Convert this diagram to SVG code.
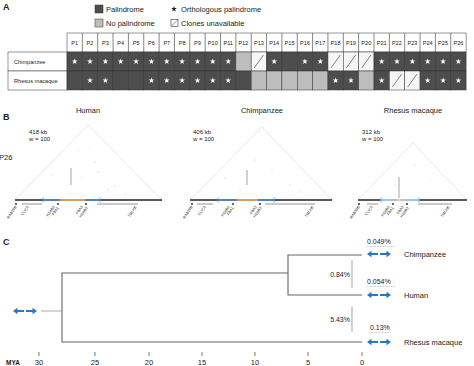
<svg xmlns="http://www.w3.org/2000/svg" xmlns:xlink="http://www.w3.org/1999/xlink" width="474" height="366" viewBox="0 0 474 366">
<style>
text{font-family:"Liberation Sans",Arial,sans-serif;fill:#222}
.pl{font-size:9px;font-weight:bold}
.lg{font-size:7.5px}
.hd{font-size:5.6px;text-anchor:middle}
.rl{font-size:5.6px}
.d{fill:#4d4d4d;stroke:#333;stroke-width:0.5}
.l{fill:#bdbdbd;stroke:#333;stroke-width:0.5}
.n{fill:#f6f6f6;stroke:#333;stroke-width:0.5}
.w{fill:#fff;stroke:#333;stroke-width:0.5}
.hl{stroke:#333;stroke-width:0.6}
.tri{fill:none;stroke:#d4d4d4;stroke-width:0.6}
.base{stroke:#222;stroke-width:1.5}
.bl{stroke:#4a90d0;stroke-width:1.6}
.blp{stroke:#9cc8ea;stroke-width:1.8}
.or{stroke:#f2b25c;stroke-width:1.6}
.gl{stroke:#888;stroke-width:0.9}
.vl{stroke:#999;stroke-width:0.9}
.gn{font-size:3.8px;text-anchor:end}
.tt{font-size:7.5px;text-anchor:middle}
.kb{font-size:6px}
.br{fill:none;stroke:#666;stroke-width:1.1}
.sp{font-size:7.5px}
.pc{font-size:7px}
.ax{font-size:7.5px;text-anchor:middle}
.tk{stroke:#555;stroke-width:0.8}
.du{stroke:#aaa;stroke-width:0.6;stroke-dasharray:1,0.6}
.dot{fill:#bbb}
use.ws{fill:#fff}
use.bs{fill:#222}
</style>
<defs>
<path id="star" d="M0,-3 L0.71,-0.97 L2.85,-0.93 L1.14,0.37 L1.76,2.43 L0,1.2 L-1.76,2.43 L-1.14,0.37 L-2.85,-0.93 L-0.71,-0.97 Z"/>
<g id="dbl" fill="#2a78c2">
<polygon points="-12,0 -7.5,-3.2 -7.5,3.2"/>
<rect x="-8" y="-1" width="7" height="2"/>
<rect x="1" y="-1" width="7" height="2"/>
<polygon points="12,0 7.5,-3.2 7.5,3.2"/>
</g>
</defs>

<!-- Panel A -->
<text class="pl" x="3" y="10">A</text>
<g id="legend">
<rect x="95" y="5" width="8" height="8" class="d"/>
<text class="lg" x="106" y="12">Palindrome</text>
<rect x="95" y="19" width="8" height="8" class="l"/>
<text class="lg" x="106" y="26">No palindrome</text>
<use href="#star" x="174" y="9" class="bs"/>
<text class="lg" x="181" y="12">Orthologous palindrome</text>
<rect x="171" y="19.5" width="7" height="7" fill="#fff" stroke="#333" stroke-width="0.6"/>
<line x1="172" y1="25.5" x2="177" y2="20.5" class="hl"/>
<text class="lg" x="181" y="26">Clones unavailable</text>
</g>

<g id="table">
<rect x="8" y="52" width="59" height="19" class="w"/>
<rect x="8" y="71" width="59" height="19" class="w"/>
<text class="rl" x="14" y="63.5">Chimpanzee</text>
<text class="rl" x="14" y="82.5">Rhesus macaque</text>
<g>
<rect x="67" y="33" width="399.1" height="19" class="w"/>
<text class="hd" x="74.7" y="44.5">P1</text><text class="hd" x="90" y="44.5">P2</text><text class="hd" x="105.4" y="44.5">P3</text><text class="hd" x="120.7" y="44.5">P4</text><text class="hd" x="136.1" y="44.5">P5</text><text class="hd" x="151.4" y="44.5">P6</text><text class="hd" x="166.8" y="44.5">P7</text><text class="hd" x="182.1" y="44.5">P8</text><text class="hd" x="197.5" y="44.5">P9</text><text class="hd" x="212.8" y="44.5">P10</text><text class="hd" x="228.2" y="44.5">P11</text><text class="hd" x="243.5" y="44.5">P12</text><text class="hd" x="258.9" y="44.5">P13</text><text class="hd" x="274.2" y="44.5">P14</text><text class="hd" x="289.6" y="44.5">P15</text><text class="hd" x="304.9" y="44.5">P16</text><text class="hd" x="320.3" y="44.5">P17</text><text class="hd" x="335.6" y="44.5">P18</text><text class="hd" x="351" y="44.5">P19</text><text class="hd" x="366.3" y="44.5">P20</text><text class="hd" x="381.7" y="44.5">P21</text><text class="hd" x="397" y="44.5">P22</text><text class="hd" x="412.4" y="44.5">P23</text><text class="hd" x="427.7" y="44.5">P24</text><text class="hd" x="443.1" y="44.5">P25</text><text class="hd" x="458.4" y="44.5">P26</text>
<g class="hl">
<line x1="82.35" y1="33" x2="82.35" y2="52"/><line x1="97.7" y1="33" x2="97.7" y2="52"/><line x1="113.05" y1="33" x2="113.05" y2="52"/><line x1="128.4" y1="33" x2="128.4" y2="52"/><line x1="143.75" y1="33" x2="143.75" y2="52"/><line x1="159.1" y1="33" x2="159.1" y2="52"/><line x1="174.45" y1="33" x2="174.45" y2="52"/><line x1="189.8" y1="33" x2="189.8" y2="52"/><line x1="205.15" y1="33" x2="205.15" y2="52"/><line x1="220.5" y1="33" x2="220.5" y2="52"/><line x1="235.85" y1="33" x2="235.85" y2="52"/><line x1="251.2" y1="33" x2="251.2" y2="52"/><line x1="266.55" y1="33" x2="266.55" y2="52"/><line x1="281.9" y1="33" x2="281.9" y2="52"/><line x1="297.25" y1="33" x2="297.25" y2="52"/><line x1="312.6" y1="33" x2="312.6" y2="52"/><line x1="327.95" y1="33" x2="327.95" y2="52"/><line x1="343.3" y1="33" x2="343.3" y2="52"/><line x1="358.65" y1="33" x2="358.65" y2="52"/><line x1="374" y1="33" x2="374" y2="52"/><line x1="389.35" y1="33" x2="389.35" y2="52"/><line x1="404.7" y1="33" x2="404.7" y2="52"/><line x1="420.05" y1="33" x2="420.05" y2="52"/><line x1="435.4" y1="33" x2="435.4" y2="52"/><line x1="450.75" y1="33" x2="450.75" y2="52"/>
</g>
</g>
<g>
<rect x="67" y="52" width="15.35" height="19" class="d"/><rect x="82.35" y="52" width="15.35" height="19" class="d"/><rect x="97.7" y="52" width="15.35" height="19" class="d"/><rect x="113.05" y="52" width="15.35" height="19" class="d"/><rect x="128.4" y="52" width="15.35" height="19" class="d"/><rect x="143.75" y="52" width="15.35" height="19" class="d"/><rect x="159.1" y="52" width="15.35" height="19" class="d"/><rect x="174.45" y="52" width="15.35" height="19" class="d"/><rect x="189.8" y="52" width="15.35" height="19" class="d"/><rect x="205.15" y="52" width="15.35" height="19" class="d"/><rect x="220.5" y="52" width="15.35" height="19" class="d"/>
<rect x="235.85" y="52" width="15.35" height="19" class="l"/>
<rect x="251.2" y="52" width="15.35" height="19" class="n"/><line x1="254.2" y1="68" x2="263.5" y2="55" class="hl"/>
<rect x="266.55" y="52" width="15.35" height="19" class="d"/>
<rect x="281.9" y="52" width="15.35" height="19" class="d"/>
<rect x="297.25" y="52" width="15.35" height="19" class="d"/>
<rect x="312.6" y="52" width="15.35" height="19" class="d"/>
<rect x="327.95" y="52" width="15.35" height="19" class="n"/><line x1="330.95" y1="68" x2="340.3" y2="55" class="hl"/>
<rect x="343.3" y="52" width="15.35" height="19" class="n"/><line x1="346.3" y1="68" x2="355.65" y2="55" class="hl"/>
<rect x="358.65" y="52" width="15.35" height="19" class="n"/><line x1="361.65" y1="68" x2="371" y2="55" class="hl"/>
<rect x="374" y="52" width="15.35" height="19" class="d"/><rect x="389.35" y="52" width="15.35" height="19" class="d"/><rect x="404.7" y="52" width="15.35" height="19" class="d"/><rect x="420.05" y="52" width="15.35" height="19" class="d"/><rect x="435.4" y="52" width="15.35" height="19" class="d"/><rect x="450.75" y="52" width="15.35" height="19" class="d"/>
<g>
<use class="ws" href="#star" x="74.7" y="61.5"/><use class="ws" href="#star" x="90" y="61.5"/><use class="ws" href="#star" x="105.4" y="61.5"/><use class="ws" href="#star" x="120.7" y="61.5"/><use class="ws" href="#star" x="136.1" y="61.5"/><use class="ws" href="#star" x="151.4" y="61.5"/><use class="ws" href="#star" x="166.8" y="61.5"/><use class="ws" href="#star" x="182.1" y="61.5"/><use class="ws" href="#star" x="197.5" y="61.5"/><use class="ws" href="#star" x="212.8" y="61.5"/><use class="ws" href="#star" x="228.2" y="61.5"/>
<use class="ws" href="#star" x="274.2" y="61.5"/><use class="ws" href="#star" x="304.9" y="61.5"/><use class="ws" href="#star" x="320.3" y="61.5"/>
<use class="ws" href="#star" x="381.7" y="61.5"/><use class="ws" href="#star" x="397" y="61.5"/><use class="ws" href="#star" x="412.4" y="61.5"/><use class="ws" href="#star" x="427.7" y="61.5"/><use class="ws" href="#star" x="443.1" y="61.5"/><use class="ws" href="#star" x="458.4" y="61.5"/>
</g>
</g>
<g>
<rect x="67" y="71" width="15.35" height="19" class="d"/><rect x="82.35" y="71" width="15.35" height="19" class="d"/><rect x="97.7" y="71" width="15.35" height="19" class="d"/><rect x="113.05" y="71" width="15.35" height="19" class="d"/><rect x="128.4" y="71" width="15.35" height="19" class="d"/><rect x="143.75" y="71" width="15.35" height="19" class="d"/><rect x="159.1" y="71" width="15.35" height="19" class="d"/><rect x="174.45" y="71" width="15.35" height="19" class="d"/><rect x="189.8" y="71" width="15.35" height="19" class="d"/><rect x="205.15" y="71" width="15.35" height="19" class="d"/><rect x="220.5" y="71" width="15.35" height="19" class="d"/><rect x="235.85" y="71" width="15.35" height="19" class="d"/>
<rect x="251.2" y="71" width="15.35" height="19" class="l"/><rect x="266.55" y="71" width="15.35" height="19" class="l"/><rect x="281.9" y="71" width="15.35" height="19" class="l"/><rect x="297.25" y="71" width="15.35" height="19" class="l"/><rect x="312.6" y="71" width="15.35" height="19" class="l"/>
<rect x="327.95" y="71" width="15.35" height="19" class="d"/><rect x="343.3" y="71" width="15.35" height="19" class="d"/>
<rect x="358.65" y="71" width="15.35" height="19" class="l"/>
<rect x="374" y="71" width="15.35" height="19" class="d"/>
<rect x="389.35" y="71" width="15.35" height="19" class="n"/><line x1="392.35" y1="87" x2="401.7" y2="74" class="hl"/>
<rect x="404.7" y="71" width="15.35" height="19" class="n"/><line x1="407.7" y1="87" x2="417.05" y2="74" class="hl"/>
<rect x="420.05" y="71" width="15.35" height="19" class="d"/><rect x="435.4" y="71" width="15.35" height="19" class="d"/><rect x="450.75" y="71" width="15.35" height="19" class="d"/>
<use class="ws" href="#star" x="90" y="80.5"/><use class="ws" href="#star" x="105.4" y="80.5"/>
<use class="ws" href="#star" x="151.4" y="80.5"/><use class="ws" href="#star" x="166.8" y="80.5"/><use class="ws" href="#star" x="182.1" y="80.5"/><use class="ws" href="#star" x="197.5" y="80.5"/><use class="ws" href="#star" x="212.8" y="80.5"/><use class="ws" href="#star" x="228.2" y="80.5"/>
<use class="ws" href="#star" x="335.6" y="80.5"/><use class="ws" href="#star" x="351" y="80.5"/>
<use class="ws" href="#star" x="381.7" y="80.5"/>
<use class="ws" href="#star" x="427.7" y="80.5"/><use class="ws" href="#star" x="443.1" y="80.5"/><use class="ws" href="#star" x="458.4" y="80.5"/>
</g>
</g>

<!-- Panel B -->
<text class="pl" x="3" y="120">B</text>
<text x="-1" y="160" style="font-size:7.5px">P26</text>

<g id="human">
<text class="tt" x="88" y="113">Human</text>
<text class="kb" x="29" y="134">418 kb</text>
<text class="kb" x="29" y="141">w = 100</text>
<polyline points="15,200 88,125 162,200" class="tri"/>
<g class="dot"><circle cx="78" cy="150" r="0.5"/><circle cx="90" cy="148" r="0.5"/><circle cx="52" cy="175" r="0.5"/><circle cx="98" cy="172" r="0.6"/><circle cx="115" cy="186" r="0.6"/><circle cx="82" cy="178" r="0.5"/><circle cx="70" cy="193" r="0.5"/><circle cx="108" cy="190" r="0.5"/><circle cx="125" cy="194" r="0.5"/><circle cx="95" cy="162" r="0.5"/></g>
<line x1="71" y1="168" x2="71" y2="185" class="vl"/>
<line x1="15" y1="200" x2="162" y2="200" class="base"/>
<line x1="43" y1="200" x2="60" y2="200" class="bl"/>
<line x1="60" y1="200" x2="85" y2="200" class="or"/>
<line x1="85" y1="200" x2="101" y2="200" class="bl"/>
<line x1="43" y1="197.5" x2="43" y2="202.5" class="bl" style="stroke-width:0.8"/>
<line x1="100" y1="197.5" x2="100" y2="202.5" class="bl" style="stroke-width:0.8"/>
<circle cx="16" cy="204" r="0.9" fill="#222"/><circle cx="58" cy="204" r="0.9" fill="#222"/><circle cx="86" cy="204" r="0.9" fill="#222"/>
<line x1="22" y1="204" x2="42" y2="204" class="gl"/>
<line x1="97" y1="204" x2="138" y2="204" class="gl"/>
<text class="gn" transform="translate(17,207) rotate(-55)">RAB39B</text>
<text class="gn" transform="translate(29,207) rotate(-55)">CLIC2</text>
<text class="gn" transform="translate(55,207) rotate(-55)">H2AB2</text>
<text class="gn" transform="translate(59,208) rotate(-55)">F8A1</text>
<text class="gn" transform="translate(83,207) rotate(-55)">F8A3</text>
<text class="gn" transform="translate(88,208) rotate(-55)">H2AB3</text>
<text class="gn" transform="translate(137,207) rotate(-55)">TMLHE</text>
</g>

<g id="chimp">
<text class="tt" x="262" y="113">Chimpanzee</text>
<text class="kb" x="193" y="134">406 kb</text>
<text class="kb" x="193" y="141">w = 100</text>
<polyline points="190,200 262,127 332,200" class="tri"/>
<g class="dot"><circle cx="255" cy="160" r="0.5"/><circle cx="272" cy="170" r="0.5"/><circle cx="225" cy="178" r="0.5"/><circle cx="290" cy="185" r="0.5"/><circle cx="300" cy="192" r="0.5"/><circle cx="262" cy="196" r="0.5"/><circle cx="240" cy="190" r="0.5"/></g>
<line x1="247" y1="170" x2="247" y2="185" class="vl"/>
<line x1="190" y1="200" x2="332" y2="200" class="base"/>
<line x1="218" y1="200" x2="237" y2="200" class="bl"/>
<line x1="237" y1="200" x2="258" y2="200" class="or"/>
<line x1="258" y1="200" x2="275" y2="200" class="bl"/>
<line x1="218" y1="197.5" x2="218" y2="202.5" class="bl" style="stroke-width:0.8"/>
<line x1="274" y1="197.5" x2="274" y2="202.5" class="bl" style="stroke-width:0.8"/>
<circle cx="192" cy="204" r="0.9" fill="#222"/><circle cx="233" cy="204" r="0.9" fill="#222"/><circle cx="260" cy="204" r="0.9" fill="#222"/>
<line x1="197" y1="204" x2="213" y2="204" class="gl"/>
<line x1="265" y1="204" x2="315" y2="204" class="gl"/>
<text class="gn" transform="translate(193,207) rotate(-55)">RAB39B</text>
<text class="gn" transform="translate(206,207) rotate(-55)">CLIC2</text>
<text class="gn" transform="translate(230,207) rotate(-55)">H2AB2</text>
<text class="gn" transform="translate(234,208) rotate(-55)">F8A1</text>
<text class="gn" transform="translate(257,207) rotate(-55)">F8A3</text>
<text class="gn" transform="translate(262,208) rotate(-55)">H2AB3</text>
<text class="gn" transform="translate(314,207) rotate(-55)">TMLHE</text>
</g>

<g id="rhesus">
<text class="tt" x="413" y="113">Rhesus macaque</text>
<text class="kb" x="362" y="134">312 kb</text>
<text class="kb" x="362" y="141">w = 100</text>
<polyline points="358,200 413,143 467,200" class="tri"/>
<g class="dot"><circle cx="415" cy="165" r="0.5"/><circle cx="430" cy="180" r="0.5"/><circle cx="395" cy="185" r="0.5"/></g>
<line x1="399" y1="177" x2="399" y2="198" class="vl"/>
<line x1="358" y1="200" x2="467" y2="200" class="base"/>
<line x1="380" y1="200" x2="420" y2="200" class="blp"/>
<line x1="397" y1="200" x2="401" y2="200" style="stroke:#f7c98a;stroke-width:2"/>
<line x1="381" y1="197.5" x2="381" y2="202.5" class="bl" style="stroke-width:0.8"/>
<line x1="419" y1="197.5" x2="419" y2="202.5" class="bl" style="stroke-width:0.8"/>
<circle cx="359" cy="204" r="0.9" fill="#222"/><circle cx="393" cy="204" r="0.9" fill="#222"/><circle cx="407" cy="204" r="0.9" fill="#222"/>
<line x1="367" y1="204" x2="378" y2="204" class="gl"/>
<line x1="418" y1="204" x2="452" y2="204" class="gl"/>
<text class="gn" transform="translate(360,207) rotate(-55)">RAB39B</text>
<text class="gn" transform="translate(373,207) rotate(-55)">CLIC2</text>
<text class="gn" transform="translate(390,207) rotate(-55)">H2AB2</text>
<text class="gn" transform="translate(394,208) rotate(-55)">F8A1</text>
<text class="gn" transform="translate(404,207) rotate(-55)">F8A3</text>
<text class="gn" transform="translate(409,208) rotate(-55)">H2AB3</text>
<text class="gn" transform="translate(450,207) rotate(-55)">TMLHE</text>
</g>

<!-- Panel C -->
<text class="pl" x="3" y="245">C</text>
<g id="tree">
<line x1="41" y1="311" x2="62" y2="311" style="stroke:#aaa;stroke-width:1"/>
<polyline points="288,273 62,273 62,342 362,342" class="br"/>
<polyline points="362,255 288,255 288,295 362,295" class="br"/>
<line x1="352" y1="260" x2="352" y2="288" class="vl"/>
<line x1="352" y1="307" x2="352" y2="332" class="vl"/>
</g>
<g id="arrows">
<use href="#dbl" x="25" y="311"/>
<use href="#dbl" x="379" y="254"/>
<use href="#dbl" x="379" y="295"/>
<use href="#dbl" x="379" y="342"/>
</g>
<g id="labels">
<text class="pc" x="367" y="244">0.049%</text>
<line x1="367" y1="246.5" x2="395" y2="246.5" class="du"/>
<text class="sp" x="404" y="257">Chimpanzee</text>
<text class="pc" x="350" y="277" text-anchor="end">0.84%</text>
<text class="pc" x="367" y="284">0.054%</text>
<line x1="367" y1="286.5" x2="395" y2="286.5" class="du"/>
<text class="sp" x="404" y="298">Human</text>
<text class="pc" x="350" y="322" text-anchor="end">5.43%</text>
<text class="pc" x="370" y="330">0.13%</text>
<line x1="369" y1="332.5" x2="391" y2="332.5" class="du"/>
<text class="sp" x="404" y="345">Rhesus macaque</text>
</g>
<g id="axis">
<text x="6" y="364.5" style="font-size:6.5px;font-weight:bold">MYA</text>
<g class="tk">
<line x1="39" y1="352" x2="39" y2="356"/><line x1="95" y1="352" x2="95" y2="356"/><line x1="149" y1="352" x2="149" y2="356"/><line x1="202" y1="352" x2="202" y2="356"/><line x1="255" y1="352" x2="255" y2="356"/><line x1="308" y1="352" x2="308" y2="356"/><line x1="362" y1="352" x2="362" y2="356"/>
</g>
<text class="ax" x="39" y="364.5">30</text><text class="ax" x="95" y="364.5">25</text><text class="ax" x="149" y="364.5">20</text><text class="ax" x="202" y="364.5">15</text><text class="ax" x="255" y="364.5">10</text><text class="ax" x="308" y="364.5">5</text><text class="ax" x="362" y="364.5">0</text>
</g>
</svg>
